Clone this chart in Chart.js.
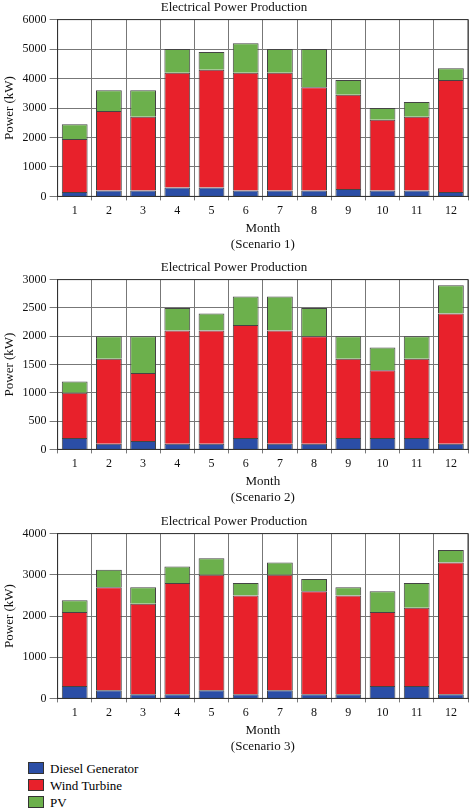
<!DOCTYPE html><html><head><meta charset="utf-8">
<script src="https://cdn.jsdelivr.net/npm/chart.js@4"></script>
<style>body{margin:0;background:#fff;width:474px;height:812px;position:relative;font-family:"Liberation Serif",serif}
.c{position:absolute;left:0;width:474px}
#lg{position:absolute;left:28px;top:760px;font-size:13px;line-height:17px}
#lg span{display:inline-block;width:14px;height:10px;border:1px solid #333;margin-right:6px;vertical-align:-1px}</style></head><body>
<div class="c" style="top:0;height:252px"><canvas id="c1"></canvas></div>
<div class="c" style="top:260px;height:245px"><canvas id="c2"></canvas></div>
<div class="c" style="top:514px;height:240px"><canvas id="c3"></canvas></div>
<div id="lg"><div><span style="background:#2b4ea6"></span>Diesel Generator</div><div><span style="background:#e8212b"></span>Wind Turbine</div><div><span style="background:#6cb04c"></span>PV</div></div>
<script>
const months=["1","2","3","4","5","6","7","8","9","10","11","12"];
const diesel1=[150,200,200,300,300,200,200,200,250,200,200,150];
const wind1=[1800,2700,2500,3900,4000,4000,4000,3500,3200,2400,2500,3800];
const pv1=[500,700,900,800,600,1000,800,1300,500,400,500,400];
const diesel2=[200,100,150,100,100,200,100,100,200,200,200,100];
const wind2=[800,1500,1200,2000,2000,2000,2000,1900,1400,1200,1400,2300];
const pv2=[200,400,650,400,300,500,600,500,400,400,400,500];
const diesel3=[300,200,100,100,200,100,200,100,100,300,300,100];
const wind3=[1800,2500,2200,2700,2800,2400,2800,2500,2400,1800,1900,3200];
const pv3=[280,420,400,400,400,300,300,300,200,500,600,300];
const yMax=[6000,3000,4000], ySteps=[1000,500,1000];
const F="'Liberation Serif', serif";
function mk(id,d,w,p,n){
 new Chart(document.getElementById(id),{type:'bar',data:{labels:months,datasets:[
  {label:'Diesel Generator',data:d,backgroundColor:'#2b4ea6'},
  {label:'Wind Turbine',data:w,backgroundColor:'#e8212b'},
  {label:'PV',data:p,backgroundColor:'#6cb04c'}].map(x=>Object.assign(x,{borderColor:'#444',borderWidth:1,barPercentage:0.82,categoryPercentage:0.92}))},
 options:{responsive:true,maintainAspectRatio:false,animation:false,layout:{padding:{right:6,top:0}},
  plugins:{legend:{display:false},title:{display:true,text:'Electrical Power Production',color:'#111',font:{family:F,size:13,weight:'normal'},padding:{top:0,bottom:4}}},
  scales:{x:{stacked:true,grid:{color:'#777',borderDash:[1,3],tickLength:4},border:{display:true,color:'#333'},
    ticks:{color:'#111',font:{family:F,size:12}},title:{display:true,text:['Month','(Scenario '+n+')'],color:'#111',font:{family:F,size:13},padding:0}},
   y:{stacked:true,min:0,max:yMax[n-1],ticks:{stepSize:ySteps[n-1],color:'#111',font:{family:F,size:12},callback:v=>String(v)},grid:{color:'#777',borderDash:[1,3]},border:{color:'#333'},
    title:{display:true,text:'Power (kW)',color:'#111',font:{family:F,size:13},padding:2}}}},
 plugins:[{id:'box',afterDraw(c){const a=c.chartArea,x=c.ctx;x.save();x.strokeStyle='#333';x.lineWidth=1;x.strokeRect(a.left,a.top,a.width,a.height);x.restore();}}]});
}
mk('c1',diesel1,wind1,pv1,1);mk('c2',diesel2,wind2,pv2,2);mk('c3',diesel3,wind3,pv3,3);
</script></body></html>
